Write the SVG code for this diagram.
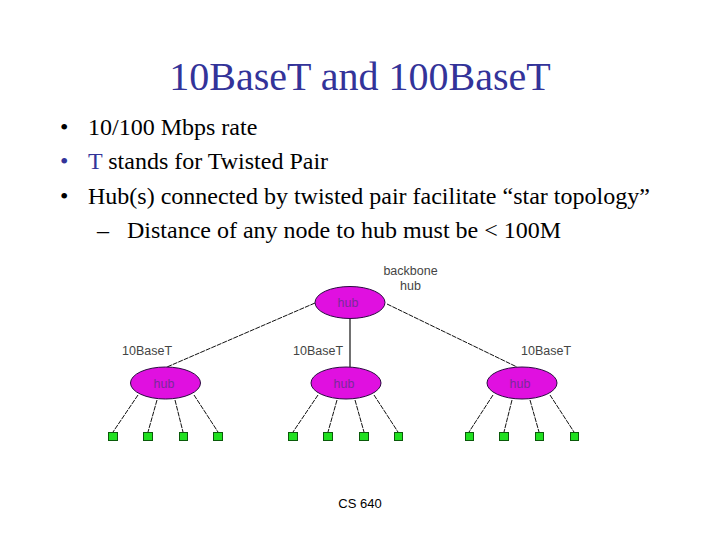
<svg xmlns="http://www.w3.org/2000/svg" width="720" height="540" viewBox="0 0 720 540">
<style>
.title{font:40px "Liberation Serif",serif;fill:#333399}
.body{font:24px "Liberation Serif",serif;fill:#000}
.blue{fill:#333399}
.hub{fill:#e010e0;stroke:#2a0a40;stroke-width:1}
.sw{fill:#20e020;stroke:#0a5a0a;stroke-width:1}
.lab{font:12.5px "Liberation Sans",sans-serif;fill:#444}
.hl{font:12.5px "Liberation Sans",sans-serif;fill:#7a2a9a;text-anchor:middle}
.foot{font:13px "Liberation Sans",sans-serif;fill:#000;text-anchor:middle}
.c{stroke:#111;stroke-width:1;fill:none;stroke-dasharray:5 1}
.s{stroke:#111;stroke-width:1.2;fill:none}
</style>
<rect width="720" height="540" fill="#fff"/>
<text class="title" x="360" y="90" text-anchor="middle">10BaseT and 100BaseT</text>
<g id="bullets">
<text class="body" x="60" y="135">•</text><text class="body" x="88" y="135">10/100 Mbps rate</text>
<text class="body blue" x="60" y="169">•</text><text class="body" x="88" y="169"><tspan class="blue">T</tspan> stands for Twisted Pair</text>
<text class="body" x="60" y="204">•</text><text class="body" x="88" y="204">Hub(s) connected by twisted pair facilitate “star topology”</text>
<text class="body" x="97" y="238">–</text><text class="body" x="127" y="238">Distance of any node to hub must be &lt; 100M</text>
</g>
<g id="connectors">
<path class="c" d="M315 303L167 367M387 304L517 367"/>
<path class="s" d="M350 318V367"/>
<path class="c" d="M138 395L113 432M157 400L148 432M175 400L183 432M194 395L218 432"/>
<path class="c" d="M318 395L293 432M337 400L328 432M355 400L364 432M374 395L398 432"/>
<path class="c" d="M493 395L469 432M512 400L504 432M530 400L539 432M550 395L574 432"/>
</g>
<g id="hub-top"><ellipse class="hub" cx="350" cy="302.5" rx="35" ry="16"/><text class="hl" x="348" y="306.500">hub</text></g>
<g id="hub-left"><ellipse class="hub" cx="165.500" cy="383" rx="35" ry="16"/><text class="hl" x="164" y="387.500">hub</text></g>
<g id="hub-mid"><ellipse class="hub" cx="346" cy="383" rx="35" ry="16"/><text class="hl" x="344" y="387.500">hub</text></g>
<g id="hub-right"><ellipse class="hub" cx="522" cy="383" rx="35" ry="16"/><text class="hl" x="520" y="387.500">hub</text></g>
<g id="labels">
<text class="lab" x="410.500" y="275" text-anchor="middle">backbone</text>
<text class="lab" x="410.500" y="290" text-anchor="middle">hub</text>
<text class="lab" x="122" y="355">10BaseT</text>
<text class="lab" x="293" y="355">10BaseT</text>
<text class="lab" x="521" y="355">10BaseT</text>
</g>
<g id="sw-l1"><rect class="sw" x="108.500" y="432.500" width="9" height="8"/></g>
<g id="sw-l2"><rect class="sw" x="143.500" y="432.500" width="9" height="8"/></g>
<g id="sw-l3"><rect class="sw" x="179.500" y="432.500" width="8" height="8"/></g>
<g id="sw-l4"><rect class="sw" x="213.500" y="432.500" width="9" height="8"/></g>
<g id="sw-m1"><rect class="sw" x="288.500" y="432.500" width="9" height="8"/></g>
<g id="sw-m2"><rect class="sw" x="323.500" y="432.500" width="9" height="8"/></g>
<g id="sw-m3"><rect class="sw" x="359.500" y="432.500" width="9" height="8"/></g>
<g id="sw-m4"><rect class="sw" x="394.500" y="432.500" width="8" height="8"/></g>
<g id="sw-r1"><rect class="sw" x="465.500" y="432.500" width="8" height="8"/></g>
<g id="sw-r2"><rect class="sw" x="499.500" y="432.500" width="9" height="8"/></g>
<g id="sw-r3"><rect class="sw" x="535.500" y="432.500" width="8" height="8"/></g>
<g id="sw-r4"><rect class="sw" x="570.500" y="432.500" width="8" height="8"/></g>
<text class="foot" x="360" y="508">CS 640</text>
</svg>
